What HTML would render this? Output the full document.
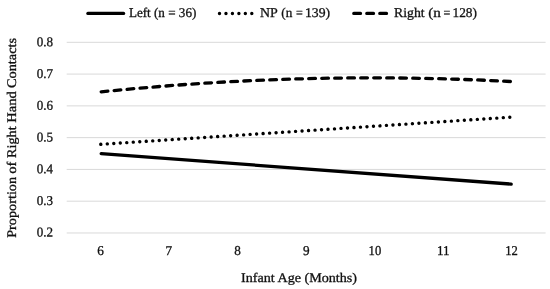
<!DOCTYPE html>
<html><head><meta charset="utf-8">
<style>
html,body{margin:0;padding:0;background:#fff;}
svg{display:block;}
text{font-family:"Liberation Serif","DejaVu Serif",serif;font-size:13.2px;fill:#111;stroke:#111;stroke-width:0.3px;text-rendering:geometricPrecision;}
.d text{font-size:13.5px;}
text.lg{font-size:13.4px;}
</style></head>
<body>
<svg width="550" height="289" viewBox="0 0 550 289">
<rect width="550" height="289" fill="#fff"/>
<g stroke="#d9d9d9" stroke-width="1">
<line x1="66.7" x2="545.6" y1="42.30" y2="42.30"/>
<line x1="66.7" x2="545.6" y1="74.08" y2="74.08"/>
<line x1="66.7" x2="545.6" y1="105.86" y2="105.86"/>
<line x1="66.7" x2="545.6" y1="137.64" y2="137.64"/>
<line x1="66.7" x2="545.6" y1="169.42" y2="169.42"/>
<line x1="66.7" x2="545.6" y1="201.20" y2="201.20"/>
<line x1="66.7" x2="545.6" y1="232.98" y2="232.98"/>
</g>
<g class="d">
<text transform="rotate(0.15 36.8 46.3)" x="36.8" y="46.3" textLength="16.3" lengthAdjust="spacingAndGlyphs">0.8</text>
<text transform="rotate(0.15 36.8 78.0)" x="36.8" y="78.0" textLength="16.3" lengthAdjust="spacingAndGlyphs">0.7</text>
<text transform="rotate(0.15 36.8 109.7)" x="36.8" y="109.7" textLength="16.3" lengthAdjust="spacingAndGlyphs">0.6</text>
<text transform="rotate(0.15 36.8 141.5)" x="36.8" y="141.5" textLength="16.3" lengthAdjust="spacingAndGlyphs">0.5</text>
<text transform="rotate(0.15 36.8 173.2)" x="36.8" y="173.2" textLength="16.3" lengthAdjust="spacingAndGlyphs">0.4</text>
<text transform="rotate(0.15 36.8 204.9)" x="36.8" y="204.9" textLength="16.3" lengthAdjust="spacingAndGlyphs">0.3</text>
<text transform="rotate(0.15 36.8 236.6)" x="36.8" y="236.6" textLength="16.3" lengthAdjust="spacingAndGlyphs">0.2</text>
</g>
<g text-anchor="middle" class="d">
<text x="100.5" y="255.4" textLength="6.6" lengthAdjust="spacingAndGlyphs">6</text>
<text x="168.8" y="255.4" textLength="6.6" lengthAdjust="spacingAndGlyphs">7</text>
<text x="237.5" y="255.4" textLength="6.6" lengthAdjust="spacingAndGlyphs">8</text>
<text x="306.3" y="255.4" textLength="6.6" lengthAdjust="spacingAndGlyphs">9</text>
<text x="374.9" y="255.4" textLength="12.6" lengthAdjust="spacingAndGlyphs">10</text>
<text x="443.2" y="255.4" textLength="12.6" lengthAdjust="spacingAndGlyphs">11</text>
<text x="511.6" y="255.4" textLength="12.6" lengthAdjust="spacingAndGlyphs">12</text>
<text x="299" y="282.0" style="font-size:13.2px" textLength="116" lengthAdjust="spacingAndGlyphs">Infant Age (Months)</text>
</g>
<text transform="translate(16.3,237.8) rotate(-90)" textLength="60.9" lengthAdjust="spacingAndGlyphs">Proportion</text>
<text transform="translate(16.3,173.7) rotate(-90)" textLength="12.2" lengthAdjust="spacingAndGlyphs">of</text>
<text transform="translate(16.3,158.0) rotate(-90)" textLength="31.7" lengthAdjust="spacingAndGlyphs">Right</text>
<text transform="translate(16.3,122.8) rotate(-90)" textLength="31.5" lengthAdjust="spacingAndGlyphs">Hand</text>
<text transform="translate(16.3,88.1) rotate(-90)" textLength="50.2" lengthAdjust="spacingAndGlyphs">Contacts</text>
<!-- legend -->
<line x1="87.9" x2="123.6" y1="13.4" y2="13.4" stroke="#000" stroke-width="3.3" stroke-linecap="round"/>
<text class="lg" x="128.9" y="16.9" textLength="67.4" lengthAdjust="spacingAndGlyphs">Left (n = 36)</text>
<line x1="219.5" x2="253" y1="13.5" y2="13.5" stroke="#000" stroke-width="3.4" stroke-linecap="round" stroke-dasharray="0.01 6.45"/>
<text class="lg" x="259.9" y="16.9" textLength="17.8" lengthAdjust="spacingAndGlyphs">NP</text>
<text class="lg" x="281.3" y="16.9" textLength="11.0" lengthAdjust="spacingAndGlyphs">(n</text>
<text class="lg" x="296.0" y="16.9" textLength="6.8" lengthAdjust="spacingAndGlyphs">=</text>
<text class="lg" x="304.9" y="16.9" textLength="25.2" lengthAdjust="spacingAndGlyphs">139)</text>
<line x1="353.8" x2="387" y1="13.4" y2="13.4" stroke="#000" stroke-width="3.3" stroke-linecap="round" stroke-dasharray="6.7 6.3"/>
<text class="lg" x="394.0" y="16.9" textLength="30.6" lengthAdjust="spacingAndGlyphs">Right</text>
<text class="lg" x="428.2" y="16.9" textLength="12.6" lengthAdjust="spacingAndGlyphs">(n</text>
<text class="lg" x="443.5" y="16.9" textLength="6.8" lengthAdjust="spacingAndGlyphs">=</text>
<text class="lg" x="452.5" y="16.9" textLength="24.5" lengthAdjust="spacingAndGlyphs">128)</text>
<!-- series -->
<path d="M101.2 153.7 L511.2 184.1" stroke="#000" stroke-width="3.3" fill="none" stroke-linecap="round"/>
<path d="M100.8 144.3 L510.3 117.2" stroke="#000" stroke-width="3.4" fill="none" stroke-linecap="round" stroke-dasharray="0.01 6.496"/>
<path d="M101.2 91.9 Q 305.5 70.7 510.5 81.5" stroke="#000" stroke-width="3.3" fill="none" stroke-linecap="round" stroke-dasharray="6.7 6.3"/>
</svg>
</body></html>
